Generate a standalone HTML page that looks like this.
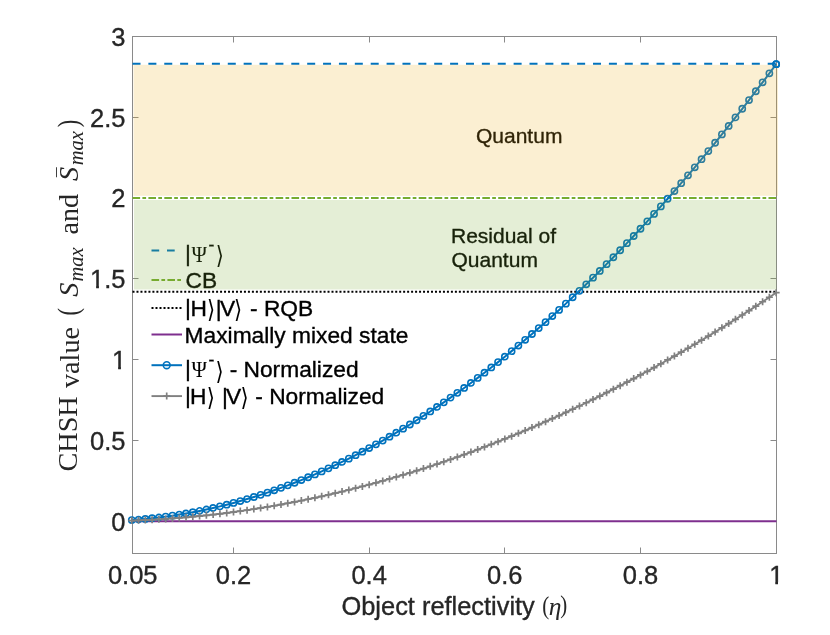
<!DOCTYPE html><html><head><meta charset="utf-8"><style>html,body{margin:0;padding:0;background:#fff;overflow:hidden}svg{display:block}</style></head><body>
<svg width="830" height="635" viewBox="0 0 830 635">
<rect width="830" height="635" fill="#fff"/>
<rect x="132.5" y="36.5" width="644.0" height="517.0" fill="none" stroke="#8a8a8a" stroke-width="1"/>
<path d="M233.5 36.5v6M233.5 553.5v-6M369.5 36.5v6M369.5 553.5v-6M504.5 36.5v6M504.5 553.5v-6M640.5 36.5v6M640.5 553.5v-6M132.5 521.5h6M776.5 521.5h-6M132.5 440.5h6M776.5 440.5h-6M132.5 359.5h6M776.5 359.5h-6M132.5 278.5h6M776.5 278.5h-6M132.5 198.5h6M776.5 198.5h-6M132.5 117.5h6M776.5 117.5h-6" stroke="#8a8a8a" stroke-width="1" fill="none"/>
<line x1="132.5" y1="63.7" x2="776.5" y2="63.7" stroke="#0072BD" stroke-width="2" stroke-dasharray="8 7.88"/>
<line x1="132.5" y1="197.9" x2="776.5" y2="197.9" stroke="#77AC30" stroke-width="2" stroke-dasharray="7.6 2.3 3.7 2.3"/>
<line x1="132.5" y1="291.8" x2="776.5" y2="291.8" stroke="#000" stroke-width="2" stroke-dasharray="2 1.98"/>
<line x1="132.5" y1="521.3" x2="776.5" y2="521.3" stroke="#7E2F8E" stroke-width="2"/>
<polyline points="131.75,520.05 138.53,519.54 145.32,518.95 152.10,518.26 158.88,517.49 165.67,516.62 172.45,515.66 179.23,514.61 186.02,513.46 192.80,512.23 199.58,510.91 206.37,509.49 213.15,507.98 219.93,506.38 226.72,504.69 233.50,502.91 240.28,501.04 247.07,499.07 253.85,497.01 260.63,494.87 267.42,492.63 274.20,490.30 280.98,487.87 287.77,485.36 294.55,482.76 301.33,480.06 308.12,477.27 314.90,474.39 321.68,471.42 328.47,468.36 335.25,465.21 342.03,461.96 348.82,458.63 355.60,455.20 362.38,451.68 369.17,448.07 375.95,444.37 382.73,440.58 389.52,436.69 396.30,432.72 403.08,428.65 409.87,424.49 416.65,420.24 423.43,415.90 430.22,411.47 437.00,406.95 443.78,402.33 450.57,397.62 457.35,392.83 464.13,387.94 470.92,382.95 477.70,377.88 484.48,372.72 491.27,367.46 498.05,362.12 504.83,356.68 511.62,351.15 518.40,345.53 525.18,339.82 531.97,334.01 538.75,328.12 545.53,322.13 552.32,316.05 559.10,309.89 565.88,303.63 572.66,297.27 579.45,290.83 586.23,284.30 593.01,277.67 599.80,270.95 606.58,264.14 613.36,257.24 620.15,250.25 626.93,243.17 633.71,235.99 640.50,228.73 647.28,221.37 654.06,213.92 660.85,206.38 667.63,198.75 674.41,191.03 681.20,183.21 687.98,175.31 694.76,167.31 701.55,159.22 708.33,151.04 715.11,142.77 721.90,134.41 728.68,125.96 735.46,117.41 742.25,108.77 749.03,100.05 755.81,91.23 762.60,82.32 769.38,73.31 776.16,64.22" fill="none" stroke="#0072BD" stroke-width="2"/>
<path d="M134.85 520.05a3.1 3.1 0 1 0 -6.2 0a3.1 3.1 0 1 0 6.2 0M141.63 519.54a3.1 3.1 0 1 0 -6.2 0a3.1 3.1 0 1 0 6.2 0M148.42 518.95a3.1 3.1 0 1 0 -6.2 0a3.1 3.1 0 1 0 6.2 0M155.20 518.26a3.1 3.1 0 1 0 -6.2 0a3.1 3.1 0 1 0 6.2 0M161.98 517.49a3.1 3.1 0 1 0 -6.2 0a3.1 3.1 0 1 0 6.2 0M168.77 516.62a3.1 3.1 0 1 0 -6.2 0a3.1 3.1 0 1 0 6.2 0M175.55 515.66a3.1 3.1 0 1 0 -6.2 0a3.1 3.1 0 1 0 6.2 0M182.33 514.61a3.1 3.1 0 1 0 -6.2 0a3.1 3.1 0 1 0 6.2 0M189.12 513.46a3.1 3.1 0 1 0 -6.2 0a3.1 3.1 0 1 0 6.2 0M195.90 512.23a3.1 3.1 0 1 0 -6.2 0a3.1 3.1 0 1 0 6.2 0M202.68 510.91a3.1 3.1 0 1 0 -6.2 0a3.1 3.1 0 1 0 6.2 0M209.47 509.49a3.1 3.1 0 1 0 -6.2 0a3.1 3.1 0 1 0 6.2 0M216.25 507.98a3.1 3.1 0 1 0 -6.2 0a3.1 3.1 0 1 0 6.2 0M223.03 506.38a3.1 3.1 0 1 0 -6.2 0a3.1 3.1 0 1 0 6.2 0M229.82 504.69a3.1 3.1 0 1 0 -6.2 0a3.1 3.1 0 1 0 6.2 0M236.60 502.91a3.1 3.1 0 1 0 -6.2 0a3.1 3.1 0 1 0 6.2 0M243.38 501.04a3.1 3.1 0 1 0 -6.2 0a3.1 3.1 0 1 0 6.2 0M250.17 499.07a3.1 3.1 0 1 0 -6.2 0a3.1 3.1 0 1 0 6.2 0M256.95 497.01a3.1 3.1 0 1 0 -6.2 0a3.1 3.1 0 1 0 6.2 0M263.73 494.87a3.1 3.1 0 1 0 -6.2 0a3.1 3.1 0 1 0 6.2 0M270.52 492.63a3.1 3.1 0 1 0 -6.2 0a3.1 3.1 0 1 0 6.2 0M277.30 490.30a3.1 3.1 0 1 0 -6.2 0a3.1 3.1 0 1 0 6.2 0M284.08 487.87a3.1 3.1 0 1 0 -6.2 0a3.1 3.1 0 1 0 6.2 0M290.87 485.36a3.1 3.1 0 1 0 -6.2 0a3.1 3.1 0 1 0 6.2 0M297.65 482.76a3.1 3.1 0 1 0 -6.2 0a3.1 3.1 0 1 0 6.2 0M304.43 480.06a3.1 3.1 0 1 0 -6.2 0a3.1 3.1 0 1 0 6.2 0M311.22 477.27a3.1 3.1 0 1 0 -6.2 0a3.1 3.1 0 1 0 6.2 0M318.00 474.39a3.1 3.1 0 1 0 -6.2 0a3.1 3.1 0 1 0 6.2 0M324.78 471.42a3.1 3.1 0 1 0 -6.2 0a3.1 3.1 0 1 0 6.2 0M331.57 468.36a3.1 3.1 0 1 0 -6.2 0a3.1 3.1 0 1 0 6.2 0M338.35 465.21a3.1 3.1 0 1 0 -6.2 0a3.1 3.1 0 1 0 6.2 0M345.13 461.96a3.1 3.1 0 1 0 -6.2 0a3.1 3.1 0 1 0 6.2 0M351.92 458.63a3.1 3.1 0 1 0 -6.2 0a3.1 3.1 0 1 0 6.2 0M358.70 455.20a3.1 3.1 0 1 0 -6.2 0a3.1 3.1 0 1 0 6.2 0M365.48 451.68a3.1 3.1 0 1 0 -6.2 0a3.1 3.1 0 1 0 6.2 0M372.27 448.07a3.1 3.1 0 1 0 -6.2 0a3.1 3.1 0 1 0 6.2 0M379.05 444.37a3.1 3.1 0 1 0 -6.2 0a3.1 3.1 0 1 0 6.2 0M385.83 440.58a3.1 3.1 0 1 0 -6.2 0a3.1 3.1 0 1 0 6.2 0M392.62 436.69a3.1 3.1 0 1 0 -6.2 0a3.1 3.1 0 1 0 6.2 0M399.40 432.72a3.1 3.1 0 1 0 -6.2 0a3.1 3.1 0 1 0 6.2 0M406.18 428.65a3.1 3.1 0 1 0 -6.2 0a3.1 3.1 0 1 0 6.2 0M412.97 424.49a3.1 3.1 0 1 0 -6.2 0a3.1 3.1 0 1 0 6.2 0M419.75 420.24a3.1 3.1 0 1 0 -6.2 0a3.1 3.1 0 1 0 6.2 0M426.53 415.90a3.1 3.1 0 1 0 -6.2 0a3.1 3.1 0 1 0 6.2 0M433.32 411.47a3.1 3.1 0 1 0 -6.2 0a3.1 3.1 0 1 0 6.2 0M440.10 406.95a3.1 3.1 0 1 0 -6.2 0a3.1 3.1 0 1 0 6.2 0M446.88 402.33a3.1 3.1 0 1 0 -6.2 0a3.1 3.1 0 1 0 6.2 0M453.67 397.62a3.1 3.1 0 1 0 -6.2 0a3.1 3.1 0 1 0 6.2 0M460.45 392.83a3.1 3.1 0 1 0 -6.2 0a3.1 3.1 0 1 0 6.2 0M467.23 387.94a3.1 3.1 0 1 0 -6.2 0a3.1 3.1 0 1 0 6.2 0M474.02 382.95a3.1 3.1 0 1 0 -6.2 0a3.1 3.1 0 1 0 6.2 0M480.80 377.88a3.1 3.1 0 1 0 -6.2 0a3.1 3.1 0 1 0 6.2 0M487.58 372.72a3.1 3.1 0 1 0 -6.2 0a3.1 3.1 0 1 0 6.2 0M494.37 367.46a3.1 3.1 0 1 0 -6.2 0a3.1 3.1 0 1 0 6.2 0M501.15 362.12a3.1 3.1 0 1 0 -6.2 0a3.1 3.1 0 1 0 6.2 0M507.93 356.68a3.1 3.1 0 1 0 -6.2 0a3.1 3.1 0 1 0 6.2 0M514.72 351.15a3.1 3.1 0 1 0 -6.2 0a3.1 3.1 0 1 0 6.2 0M521.50 345.53a3.1 3.1 0 1 0 -6.2 0a3.1 3.1 0 1 0 6.2 0M528.28 339.82a3.1 3.1 0 1 0 -6.2 0a3.1 3.1 0 1 0 6.2 0M535.07 334.01a3.1 3.1 0 1 0 -6.2 0a3.1 3.1 0 1 0 6.2 0M541.85 328.12a3.1 3.1 0 1 0 -6.2 0a3.1 3.1 0 1 0 6.2 0M548.63 322.13a3.1 3.1 0 1 0 -6.2 0a3.1 3.1 0 1 0 6.2 0M555.42 316.05a3.1 3.1 0 1 0 -6.2 0a3.1 3.1 0 1 0 6.2 0M562.20 309.89a3.1 3.1 0 1 0 -6.2 0a3.1 3.1 0 1 0 6.2 0M568.98 303.63a3.1 3.1 0 1 0 -6.2 0a3.1 3.1 0 1 0 6.2 0M575.76 297.27a3.1 3.1 0 1 0 -6.2 0a3.1 3.1 0 1 0 6.2 0M582.55 290.83a3.1 3.1 0 1 0 -6.2 0a3.1 3.1 0 1 0 6.2 0M589.33 284.30a3.1 3.1 0 1 0 -6.2 0a3.1 3.1 0 1 0 6.2 0M596.11 277.67a3.1 3.1 0 1 0 -6.2 0a3.1 3.1 0 1 0 6.2 0M602.90 270.95a3.1 3.1 0 1 0 -6.2 0a3.1 3.1 0 1 0 6.2 0M609.68 264.14a3.1 3.1 0 1 0 -6.2 0a3.1 3.1 0 1 0 6.2 0M616.46 257.24a3.1 3.1 0 1 0 -6.2 0a3.1 3.1 0 1 0 6.2 0M623.25 250.25a3.1 3.1 0 1 0 -6.2 0a3.1 3.1 0 1 0 6.2 0M630.03 243.17a3.1 3.1 0 1 0 -6.2 0a3.1 3.1 0 1 0 6.2 0M636.81 235.99a3.1 3.1 0 1 0 -6.2 0a3.1 3.1 0 1 0 6.2 0M643.60 228.73a3.1 3.1 0 1 0 -6.2 0a3.1 3.1 0 1 0 6.2 0M650.38 221.37a3.1 3.1 0 1 0 -6.2 0a3.1 3.1 0 1 0 6.2 0M657.16 213.92a3.1 3.1 0 1 0 -6.2 0a3.1 3.1 0 1 0 6.2 0M663.95 206.38a3.1 3.1 0 1 0 -6.2 0a3.1 3.1 0 1 0 6.2 0M670.73 198.75a3.1 3.1 0 1 0 -6.2 0a3.1 3.1 0 1 0 6.2 0M677.51 191.03a3.1 3.1 0 1 0 -6.2 0a3.1 3.1 0 1 0 6.2 0M684.30 183.21a3.1 3.1 0 1 0 -6.2 0a3.1 3.1 0 1 0 6.2 0M691.08 175.31a3.1 3.1 0 1 0 -6.2 0a3.1 3.1 0 1 0 6.2 0M697.86 167.31a3.1 3.1 0 1 0 -6.2 0a3.1 3.1 0 1 0 6.2 0M704.65 159.22a3.1 3.1 0 1 0 -6.2 0a3.1 3.1 0 1 0 6.2 0M711.43 151.04a3.1 3.1 0 1 0 -6.2 0a3.1 3.1 0 1 0 6.2 0M718.21 142.77a3.1 3.1 0 1 0 -6.2 0a3.1 3.1 0 1 0 6.2 0M725.00 134.41a3.1 3.1 0 1 0 -6.2 0a3.1 3.1 0 1 0 6.2 0M731.78 125.96a3.1 3.1 0 1 0 -6.2 0a3.1 3.1 0 1 0 6.2 0M738.56 117.41a3.1 3.1 0 1 0 -6.2 0a3.1 3.1 0 1 0 6.2 0M745.35 108.77a3.1 3.1 0 1 0 -6.2 0a3.1 3.1 0 1 0 6.2 0M752.13 100.05a3.1 3.1 0 1 0 -6.2 0a3.1 3.1 0 1 0 6.2 0M758.91 91.23a3.1 3.1 0 1 0 -6.2 0a3.1 3.1 0 1 0 6.2 0M765.70 82.32a3.1 3.1 0 1 0 -6.2 0a3.1 3.1 0 1 0 6.2 0M772.48 73.31a3.1 3.1 0 1 0 -6.2 0a3.1 3.1 0 1 0 6.2 0M779.26 64.22a3.1 3.1 0 1 0 -6.2 0a3.1 3.1 0 1 0 6.2 0" stroke="#0072BD" stroke-width="1.6" fill="none"/>
<polyline points="131.75,520.62 138.53,520.36 145.32,520.07 152.10,519.73 158.88,519.34 165.67,518.90 172.45,518.42 179.23,517.90 186.02,517.33 192.80,516.71 199.58,516.05 206.37,515.34 213.15,514.58 219.93,513.78 226.72,512.94 233.50,512.05 240.28,511.11 247.07,510.13 253.85,509.10 260.63,508.03 267.42,506.91 274.20,505.74 280.98,504.53 287.77,503.27 294.55,501.97 301.33,500.62 308.12,499.23 314.90,497.79 321.68,496.31 328.47,494.77 335.25,493.20 342.03,491.58 348.82,489.91 355.60,488.19 362.38,486.44 369.17,484.63 375.95,482.78 382.73,480.88 389.52,478.94 396.30,476.95 403.08,474.92 409.87,472.84 416.65,470.72 423.43,468.54 430.22,466.33 437.00,464.07 443.78,461.76 450.57,459.41 457.35,457.01 464.13,454.56 470.92,452.07 477.70,449.53 484.48,446.95 491.27,444.33 498.05,441.65 504.83,438.93 511.62,436.17 518.40,433.36 525.18,430.50 531.97,427.60 538.75,424.65 545.53,421.66 552.32,418.62 559.10,415.54 565.88,412.41 572.66,409.23 579.45,406.01 586.23,402.74 593.01,399.43 599.80,396.07 606.58,392.67 613.36,389.22 620.15,385.72 626.93,382.18 633.71,378.59 640.50,374.96 647.28,371.28 654.06,367.55 660.85,363.78 667.63,359.97 674.41,356.11 681.20,352.20 687.98,348.25 694.76,344.25 701.55,340.21 708.33,336.12 715.11,331.98 721.90,327.80 728.68,323.57 735.46,319.30 742.25,314.98 749.03,310.62 755.81,306.21 762.60,301.75 769.38,297.25 776.16,292.70" fill="none" stroke="#808080" stroke-width="1.9"/>
<path d="M128.25 520.62h7.0M131.75 517.12v7.0M135.03 520.36h7.0M138.53 516.86v7.0M141.82 520.07h7.0M145.32 516.57v7.0M148.60 519.73h7.0M152.10 516.23v7.0M155.38 519.34h7.0M158.88 515.84v7.0M162.17 518.90h7.0M165.67 515.40v7.0M168.95 518.42h7.0M172.45 514.92v7.0M175.73 517.90h7.0M179.23 514.40v7.0M182.52 517.33h7.0M186.02 513.83v7.0M189.30 516.71h7.0M192.80 513.21v7.0M196.08 516.05h7.0M199.58 512.55v7.0M202.87 515.34h7.0M206.37 511.84v7.0M209.65 514.58h7.0M213.15 511.08v7.0M216.43 513.78h7.0M219.93 510.28v7.0M223.22 512.94h7.0M226.72 509.44v7.0M230.00 512.05h7.0M233.50 508.55v7.0M236.78 511.11h7.0M240.28 507.61v7.0M243.57 510.13h7.0M247.07 506.63v7.0M250.35 509.10h7.0M253.85 505.60v7.0M257.13 508.03h7.0M260.63 504.53v7.0M263.92 506.91h7.0M267.42 503.41v7.0M270.70 505.74h7.0M274.20 502.24v7.0M277.48 504.53h7.0M280.98 501.03v7.0M284.27 503.27h7.0M287.77 499.77v7.0M291.05 501.97h7.0M294.55 498.47v7.0M297.83 500.62h7.0M301.33 497.12v7.0M304.62 499.23h7.0M308.12 495.73v7.0M311.40 497.79h7.0M314.90 494.29v7.0M318.18 496.31h7.0M321.68 492.81v7.0M324.97 494.77h7.0M328.47 491.27v7.0M331.75 493.20h7.0M335.25 489.70v7.0M338.53 491.58h7.0M342.03 488.08v7.0M345.32 489.91h7.0M348.82 486.41v7.0M352.10 488.19h7.0M355.60 484.69v7.0M358.88 486.44h7.0M362.38 482.94v7.0M365.67 484.63h7.0M369.17 481.13v7.0M372.45 482.78h7.0M375.95 479.28v7.0M379.23 480.88h7.0M382.73 477.38v7.0M386.02 478.94h7.0M389.52 475.44v7.0M392.80 476.95h7.0M396.30 473.45v7.0M399.58 474.92h7.0M403.08 471.42v7.0M406.37 472.84h7.0M409.87 469.34v7.0M413.15 470.72h7.0M416.65 467.22v7.0M419.93 468.54h7.0M423.43 465.04v7.0M426.72 466.33h7.0M430.22 462.83v7.0M433.50 464.07h7.0M437.00 460.57v7.0M440.28 461.76h7.0M443.78 458.26v7.0M447.07 459.41h7.0M450.57 455.91v7.0M453.85 457.01h7.0M457.35 453.51v7.0M460.63 454.56h7.0M464.13 451.06v7.0M467.42 452.07h7.0M470.92 448.57v7.0M474.20 449.53h7.0M477.70 446.03v7.0M480.98 446.95h7.0M484.48 443.45v7.0M487.77 444.33h7.0M491.27 440.83v7.0M494.55 441.65h7.0M498.05 438.15v7.0M501.33 438.93h7.0M504.83 435.43v7.0M508.12 436.17h7.0M511.62 432.67v7.0M514.90 433.36h7.0M518.40 429.86v7.0M521.68 430.50h7.0M525.18 427.00v7.0M528.47 427.60h7.0M531.97 424.10v7.0M535.25 424.65h7.0M538.75 421.15v7.0M542.03 421.66h7.0M545.53 418.16v7.0M548.82 418.62h7.0M552.32 415.12v7.0M555.60 415.54h7.0M559.10 412.04v7.0M562.38 412.41h7.0M565.88 408.91v7.0M569.16 409.23h7.0M572.66 405.73v7.0M575.95 406.01h7.0M579.45 402.51v7.0M582.73 402.74h7.0M586.23 399.24v7.0M589.51 399.43h7.0M593.01 395.93v7.0M596.30 396.07h7.0M599.80 392.57v7.0M603.08 392.67h7.0M606.58 389.17v7.0M609.86 389.22h7.0M613.36 385.72v7.0M616.65 385.72h7.0M620.15 382.22v7.0M623.43 382.18h7.0M626.93 378.68v7.0M630.21 378.59h7.0M633.71 375.09v7.0M637.00 374.96h7.0M640.50 371.46v7.0M643.78 371.28h7.0M647.28 367.78v7.0M650.56 367.55h7.0M654.06 364.05v7.0M657.35 363.78h7.0M660.85 360.28v7.0M664.13 359.97h7.0M667.63 356.47v7.0M670.91 356.11h7.0M674.41 352.61v7.0M677.70 352.20h7.0M681.20 348.70v7.0M684.48 348.25h7.0M687.98 344.75v7.0M691.26 344.25h7.0M694.76 340.75v7.0M698.05 340.21h7.0M701.55 336.71v7.0M704.83 336.12h7.0M708.33 332.62v7.0M711.61 331.98h7.0M715.11 328.48v7.0M718.40 327.80h7.0M721.90 324.30v7.0M725.18 323.57h7.0M728.68 320.07v7.0M731.96 319.30h7.0M735.46 315.80v7.0M738.75 314.98h7.0M742.25 311.48v7.0M745.53 310.62h7.0M749.03 307.12v7.0M752.31 306.21h7.0M755.81 302.71v7.0M759.10 301.75h7.0M762.60 298.25v7.0M765.88 297.25h7.0M769.38 293.75v7.0M772.66 292.70h7.0M776.16 289.20v7.0" stroke="#808080" stroke-width="1.7" fill="none"/>
<line x1="151.5" y1="250.4" x2="182" y2="250.4" stroke="#0072BD" stroke-width="2" stroke-dasharray="7.7 7.8"/>
<line x1="151.5" y1="280.0" x2="182" y2="280.0" stroke="#77AC30" stroke-width="2" stroke-dasharray="7.6 2.3 3.7 2.3"/>
<line x1="151.5" y1="308.1" x2="182" y2="308.1" stroke="#000" stroke-width="2" stroke-dasharray="2 2"/>
<line x1="151.5" y1="334.5" x2="182" y2="334.5" stroke="#7E2F8E" stroke-width="2"/>
<line x1="151.5" y1="365.2" x2="182" y2="365.2" stroke="#0072BD" stroke-width="2"/>
<circle cx="166.7" cy="365.2" r="3.4" fill="none" stroke="#0072BD" stroke-width="1.6"/>
<line x1="151.5" y1="396.1" x2="182" y2="396.1" stroke="#808080" stroke-width="1.9"/>
<path d="M166.7 392.6v7.0M163.2 396.1h7.0" stroke="#808080" stroke-width="1.7"/>
<text x="476.00" y="142.70" style="font-family:'Liberation Sans',Arial,sans-serif;font-size:21.0px;stroke:#000;stroke-width:0.35px" fill="#000">Quantum</text>
<text x="451.00" y="242.80" style="font-family:'Liberation Sans',Arial,sans-serif;font-size:21.0px;stroke:#000;stroke-width:0.35px" fill="#000">Residual of</text>
<text x="451.50" y="267.20" style="font-family:'Liberation Sans',Arial,sans-serif;font-size:21.0px;stroke:#000;stroke-width:0.35px" fill="#000">Quantum</text>
<text x="185.00" y="260.50" style="font-family:'Liberation Sans',Arial,sans-serif;font-size:22.75px;stroke:#000;stroke-width:0.35px" fill="#000">|</text>
<text transform="translate(191.50,262.00) scale(0.92,1)" style="font-family:'Liberation Serif','Times New Roman',serif;font-size:22.75px" fill="#000">Ψ</text>
<text x="208.50" y="251.05" style="font-family:'Liberation Sans',Arial,sans-serif;font-size:17.5px;stroke:#000;stroke-width:0.35px" fill="#000">-</text>
<text transform="translate(215.70,264.00) scale(1.1,1.3)" style="font-family:'DejaVu Sans',sans-serif;font-size:19px" fill="#000">⟩</text>
<text x="185.50" y="288.20" style="font-family:'Liberation Sans',Arial,sans-serif;font-size:22.75px;stroke:#000;stroke-width:0.35px" fill="#000">CB</text>
<text x="184.90" y="314.90" style="font-family:'Liberation Sans',Arial,sans-serif;font-size:22.75px;stroke:#000;stroke-width:0.35px" fill="#000">|</text>
<text x="190.50" y="315.60" style="font-family:'Liberation Sans',Arial,sans-serif;font-size:22.75px;stroke:#000;stroke-width:0.35px" fill="#000">H</text>
<text transform="translate(207.10,317.80) scale(1.1,1.3)" style="font-family:'DejaVu Sans',sans-serif;font-size:19px" fill="#000">⟩</text>
<text x="215.65" y="316.10" style="font-family:'Liberation Sans',Arial,sans-serif;font-size:22.75px;stroke:#000;stroke-width:0.35px" fill="#000">|</text>
<text x="220.00" y="316.10" style="font-family:'Liberation Sans',Arial,sans-serif;font-size:22.75px;stroke:#000;stroke-width:0.35px" fill="#000">V</text>
<text transform="translate(234.05,318.20) scale(1.1,1.3)" style="font-family:'DejaVu Sans',sans-serif;font-size:19px" fill="#000">⟩</text>
<text x="250.00" y="316.10" style="font-family:'Liberation Sans',Arial,sans-serif;font-size:22.75px;stroke:#000;stroke-width:0.35px" fill="#000">- RQB</text>
<text x="184.60" y="342.80" style="font-family:'Liberation Sans',Arial,sans-serif;font-size:22.75px;stroke:#000;stroke-width:0.35px" fill="#000">Maximally mixed state</text>
<text x="185.00" y="375.70" style="font-family:'Liberation Sans',Arial,sans-serif;font-size:22.75px;stroke:#000;stroke-width:0.35px" fill="#000">|</text>
<text transform="translate(191.50,376.70) scale(0.92,1)" style="font-family:'Liberation Serif','Times New Roman',serif;font-size:22.75px" fill="#000">Ψ</text>
<text x="208.50" y="365.50" style="font-family:'Liberation Sans',Arial,sans-serif;font-size:17.5px;stroke:#000;stroke-width:0.35px" fill="#000">-</text>
<text transform="translate(215.50,379.70) scale(1.1,1.3)" style="font-family:'DejaVu Sans',sans-serif;font-size:19px" fill="#000">⟩</text>
<text x="229.65" y="376.70" style="font-family:'Liberation Sans',Arial,sans-serif;font-size:22.75px;stroke:#000;stroke-width:0.35px" fill="#000">- Normalized</text>
<text x="185.00" y="402.90" style="font-family:'Liberation Sans',Arial,sans-serif;font-size:22.75px;stroke:#000;stroke-width:0.35px" fill="#000">|</text>
<text x="190.00" y="404.15" style="font-family:'Liberation Sans',Arial,sans-serif;font-size:22.75px;stroke:#000;stroke-width:0.35px" fill="#000">H</text>
<text transform="translate(206.70,406.15) scale(1.1,1.3)" style="font-family:'DejaVu Sans',sans-serif;font-size:19px" fill="#000">⟩</text>
<text x="222.00" y="404.40" style="font-family:'Liberation Sans',Arial,sans-serif;font-size:22.75px;stroke:#000;stroke-width:0.35px" fill="#000">|</text>
<text x="226.00" y="404.40" style="font-family:'Liberation Sans',Arial,sans-serif;font-size:22.75px;stroke:#000;stroke-width:0.35px" fill="#000">V</text>
<text transform="translate(240.40,405.90) scale(1.1,1.3)" style="font-family:'DejaVu Sans',sans-serif;font-size:19px" fill="#000">⟩</text>
<text x="255.25" y="404.40" style="font-family:'Liberation Sans',Arial,sans-serif;font-size:22.75px;stroke:#000;stroke-width:0.35px" fill="#000">- Normalized</text>
<rect x="133.5" y="64.8" width="644.5" height="131.0" fill="#EDB120" fill-opacity="0.2"/>
<rect x="134" y="200" width="642.5" height="89.5" fill="#77AC30" fill-opacity="0.2"/>
<circle cx="776.16" cy="64.22" r="3.1" fill="none" stroke="#0072BD" stroke-width="1.6"/>
<defs><clipPath id="cxt1"><rect x="0" y="0" width="830" height="582"/><rect x="775.33" y="582" width="2.669999999999959" height="12"/></clipPath><clipPath id="cyt1"><rect x="0" y="0" width="830" height="367"/><rect x="118.15" y="367" width="2.759999999999991" height="12"/></clipPath><clipPath id="cyt1_5"><rect x="0" y="0" width="830" height="286"/><rect x="96.15" y="286" width="2.759999999999991" height="12"/><rect x="104.71" y="286" width="60" height="12"/></clipPath></defs>
<text x="132.75" y="584.20" style="font-family:'Liberation Sans',Arial,sans-serif;font-size:25.5px;stroke:#262626;stroke-width:0.35px" fill="#262626" text-anchor="middle">0.05</text>
<text x="233.50" y="584.20" style="font-family:'Liberation Sans',Arial,sans-serif;font-size:25.5px;stroke:#262626;stroke-width:0.35px" fill="#262626" text-anchor="middle">0.2</text>
<text x="369.17" y="584.20" style="font-family:'Liberation Sans',Arial,sans-serif;font-size:25.5px;stroke:#262626;stroke-width:0.35px" fill="#262626" text-anchor="middle">0.4</text>
<text x="504.83" y="584.20" style="font-family:'Liberation Sans',Arial,sans-serif;font-size:25.5px;stroke:#262626;stroke-width:0.35px" fill="#262626" text-anchor="middle">0.6</text>
<text x="640.50" y="584.20" style="font-family:'Liberation Sans',Arial,sans-serif;font-size:25.5px;stroke:#262626;stroke-width:0.35px" fill="#262626" text-anchor="middle">0.8</text>
<text x="776.43" y="584.14" style="font-family:'Liberation Sans',Arial,sans-serif;font-size:25.5px;stroke:#262626;stroke-width:0.35px" fill="#262626" text-anchor="middle" clip-path="url(#cxt1)">1</text>
<text x="125.50" y="530.89" style="font-family:'Liberation Sans',Arial,sans-serif;font-size:25.5px;stroke:#262626;stroke-width:0.35px" fill="#262626" text-anchor="end">0</text>
<text x="125.50" y="450.31" style="font-family:'Liberation Sans',Arial,sans-serif;font-size:25.5px;stroke:#262626;stroke-width:0.35px" fill="#262626" text-anchor="end">0.5</text>
<text x="126.10" y="369.49" style="font-family:'Liberation Sans',Arial,sans-serif;font-size:25.5px;stroke:#262626;stroke-width:0.35px" fill="#262626" text-anchor="end" clip-path="url(#cyt1)">1</text>
<text x="125.50" y="288.04" style="font-family:'Liberation Sans',Arial,sans-serif;font-size:25.5px;stroke:#262626;stroke-width:0.35px" fill="#262626" text-anchor="end" clip-path="url(#cyt1_5)">1.5</text>
<text x="125.50" y="207.46" style="font-family:'Liberation Sans',Arial,sans-serif;font-size:25.5px;stroke:#262626;stroke-width:0.35px" fill="#262626" text-anchor="end">2</text>
<text x="125.50" y="126.88" style="font-family:'Liberation Sans',Arial,sans-serif;font-size:25.5px;stroke:#262626;stroke-width:0.35px" fill="#262626" text-anchor="end">2.5</text>
<text x="125.50" y="46.30" style="font-family:'Liberation Sans',Arial,sans-serif;font-size:25.5px;stroke:#262626;stroke-width:0.35px" fill="#262626" text-anchor="end">3</text>
<text x="341.50" y="614.50" style="font-family:'Liberation Sans',Arial,sans-serif;font-size:25.4px;stroke:#262626;stroke-width:0.35px" fill="#262626">Object reflectivity</text>
<text transform="translate(542.30,613.80) scale(0.8,1)" style="font-family:'Liberation Serif','Times New Roman',serif;font-size:26.2px" fill="#262626">(</text>
<text x="548.80" y="615.10" style="font-family:'Liberation Serif','Times New Roman',serif;font-size:25.5px;font-style:italic" fill="#262626">η</text>
<text transform="translate(560.20,613.30) scale(0.8,1)" style="font-family:'Liberation Serif','Times New Roman',serif;font-size:26.2px" fill="#262626">)</text>
<text transform="translate(77.20,471.50) rotate(-90)" style="font-family:'Liberation Serif','Times New Roman',serif;font-size:28.2px" fill="#262626">CHSH</text>
<text transform="translate(78.70,388.00) rotate(-90)" style="font-family:'Liberation Serif','Times New Roman',serif;font-size:28.2px" fill="#262626">value</text>
<text transform="translate(77.85,315.60) rotate(-90) scale(0.75,1)" style="font-family:'Liberation Serif','Times New Roman',serif;font-size:30px" fill="#262626">(</text>
<text transform="translate(78.20,296.80) rotate(-90)" style="font-family:'Liberation Serif','Times New Roman',serif;font-size:28.2px;font-style:italic" fill="#262626">S</text>
<text transform="translate(82.70,281.50) rotate(-90)" style="font-family:'Liberation Serif','Times New Roman',serif;font-size:20.5px;font-style:italic" fill="#262626">max</text>
<text transform="translate(78.20,234.50) rotate(-90)" style="font-family:'Liberation Serif','Times New Roman',serif;font-size:28.2px" fill="#262626">and</text>
<text transform="translate(78.20,180.90) rotate(-90)" style="font-family:'Liberation Serif','Times New Roman',serif;font-size:28.2px;font-style:italic" fill="#262626">S</text>
<text transform="translate(69.70,177.00) rotate(-90)" style="font-family:'Liberation Serif','Times New Roman',serif;font-size:19px" fill="#262626">¯</text>
<text transform="translate(82.70,165.30) rotate(-90)" style="font-family:'Liberation Serif','Times New Roman',serif;font-size:20.5px;font-style:italic" fill="#262626">max</text>
<text transform="translate(78.30,127.20) rotate(-90) scale(0.75,1)" style="font-family:'Liberation Serif','Times New Roman',serif;font-size:30px" fill="#262626">)</text>
</svg></body></html>
